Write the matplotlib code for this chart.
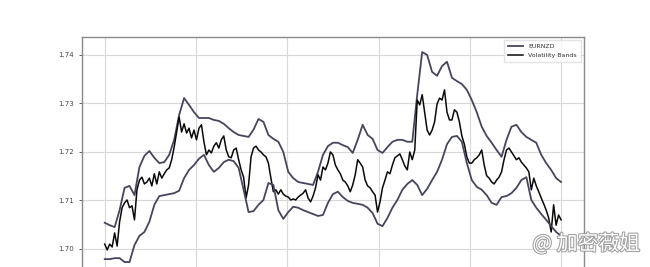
import numpy as np
import matplotlib.pyplot as plt
import matplotlib.patheffects as pe

# EURNZD close
eurnzd = [
    1.7010, 1.6998, 1.7010, 1.7004, 1.7033, 1.7006, 1.7056, 1.7085,
    1.7095, 1.7101, 1.7085, 1.7089, 1.7060, 1.7122, 1.7142, 1.7148,
    1.7134, 1.7138, 1.7146, 1.7130, 1.7155, 1.7134, 1.7159, 1.7146,
    1.7155, 1.7163, 1.7167, 1.7184, 1.7210, 1.7241, 1.7272, 1.7241,
    1.7258, 1.7239, 1.7249, 1.7229, 1.7245, 1.7225, 1.7249, 1.7256,
    1.7221, 1.7194, 1.7204, 1.7198, 1.7212, 1.7219, 1.7208, 1.7225,
    1.7233, 1.7204, 1.7190, 1.7188, 1.7204, 1.7208, 1.7184, 1.7163,
    1.7148, 1.7105, 1.7132, 1.7190, 1.7208, 1.7212, 1.7204, 1.7200,
    1.7194, 1.7190, 1.7177, 1.7146, 1.7118, 1.7122, 1.7113, 1.7122,
    1.7113, 1.7109, 1.7107, 1.7101, 1.7103, 1.7101, 1.7107, 1.7111,
    1.7115, 1.7122, 1.7105, 1.7097, 1.7109, 1.7126, 1.7153, 1.7142,
    1.7169, 1.7163, 1.7177, 1.7200, 1.7194, 1.7173, 1.7163, 1.7155,
    1.7142, 1.7138, 1.7130, 1.7118, 1.7132, 1.7153, 1.7184, 1.7177,
    1.7169, 1.7142, 1.7130, 1.7126, 1.7118, 1.7111, 1.7076, 1.7097,
    1.7126, 1.7142, 1.7159, 1.7155, 1.7173, 1.7188, 1.7192, 1.7196,
    1.7184, 1.7171, 1.7163, 1.7200, 1.7184, 1.7204, 1.7307, 1.7297,
    1.7318, 1.7282, 1.7245, 1.7235, 1.7245, 1.7262, 1.7299, 1.7311,
    1.7307, 1.7328, 1.7282, 1.7266, 1.7266, 1.7287, 1.7282, 1.7262,
    1.7233, 1.7216, 1.7190, 1.7177, 1.7177, 1.7184, 1.7188, 1.7194,
    1.7204, 1.7173, 1.7151, 1.7146, 1.7138, 1.7134, 1.7142, 1.7148,
    1.7159, 1.7184, 1.7204, 1.7208, 1.7200, 1.7192, 1.7184, 1.7188,
    1.7179, 1.7173, 1.7167, 1.7159, 1.7122, 1.7146, 1.7130, 1.7118,
    1.7105, 1.7093, 1.7080, 1.7064, 1.7035, 1.7091, 1.7049, 1.7070,
    1.7060,
]

upper_band = [
    1.7054, 1.7049, 1.7045, 1.7080, 1.7126, 1.7130, 1.7111, 1.7169,
    1.7192, 1.7202, 1.7188, 1.7177, 1.7179, 1.7194, 1.7225, 1.7276,
    1.7311, 1.7297, 1.7282, 1.7270, 1.7270, 1.7270, 1.7266, 1.7264,
    1.7258, 1.7249, 1.7241, 1.7235, 1.7233, 1.7231, 1.7246, 1.7268,
    1.7262, 1.7235, 1.7227, 1.7221, 1.7200, 1.7159, 1.7146, 1.7138,
    1.7136, 1.7134, 1.7132, 1.7159, 1.7194, 1.7212, 1.7219, 1.7219,
    1.7214, 1.7210, 1.7198, 1.7225, 1.7256, 1.7235, 1.7227, 1.7204,
    1.7198, 1.7210, 1.7221, 1.7225, 1.7225, 1.7221, 1.7221, 1.7318,
    1.7406, 1.7400, 1.7365, 1.7357, 1.7377, 1.7386, 1.7353, 1.7346,
    1.7340, 1.7328, 1.7307, 1.7282, 1.7252, 1.7233, 1.7219, 1.7204,
    1.7190, 1.7225, 1.7252, 1.7256, 1.7241, 1.7231, 1.7225, 1.7219,
    1.7194, 1.7177, 1.7163, 1.7146, 1.7138,
]

lower_band = [
    1.6979, 1.6979, 1.6981, 1.6981, 1.6973, 1.6973, 1.7008, 1.7027,
    1.7035, 1.7056, 1.7091, 1.7109, 1.7111, 1.7113, 1.7115, 1.7120,
    1.7146, 1.7163, 1.7173, 1.7186, 1.7194, 1.7173, 1.7159, 1.7167,
    1.7179, 1.7184, 1.7181, 1.7167, 1.7122, 1.7076, 1.7078, 1.7091,
    1.7101, 1.7136, 1.7132, 1.7080, 1.7062, 1.7076, 1.7087, 1.7085,
    1.7080, 1.7076, 1.7072, 1.7068, 1.7070, 1.7095, 1.7113, 1.7118,
    1.7107, 1.7099, 1.7095, 1.7093, 1.7091, 1.7085, 1.7074, 1.7052,
    1.7047, 1.7064, 1.7085, 1.7101, 1.7122, 1.7134, 1.7142, 1.7132,
    1.7111, 1.7124, 1.7142, 1.7159, 1.7184, 1.7216, 1.7231, 1.7233,
    1.7221, 1.7177, 1.7142, 1.7128, 1.7122, 1.7111, 1.7095, 1.7091,
    1.7107, 1.7109, 1.7115, 1.7126, 1.7142, 1.7148, 1.7101, 1.7085,
    1.7072, 1.7060, 1.7047, 1.7035, 1.7027,
]

y_ticks = [1.70, 1.71, 1.72, 1.73, 1.74]
n_days = 500

x_price = np.linspace(0, n_days, len(eurnzd))
x_band = np.linspace(0, n_days, len(upper_band))

fig = plt.figure(figsize=(6.5, 2.67), dpi=100)
ax = fig.add_axes([0.126, -0.0232, 0.7723, 0.8846])

band_color = "#45455e"
ax.plot(x_band, upper_band, color=band_color, lw=1.3)
ax.plot(x_price, eurnzd, color="#0a0a0a", lw=1.1)
ax.plot(x_band, lower_band, color=band_color, lw=1.3)

ax.set_ylim(1.695, 1.7437)
ax.set_yticks(y_ticks)
ax.set_yticklabels([f"{t:.2f}" for t in y_ticks])
ax.set_xticks(np.arange(0, n_days + 1, 100))
ax.tick_params(axis="y", labelsize=5, colors="#444444", length=2, width=0.6)
ax.tick_params(axis="x", labelbottom=False, length=0)
ax.grid(True, color="#d8d8d8", lw=0.8)
for s in ax.spines.values():
    s.set_color("#8a8a8a")
    s.set_linewidth(1.0)

ax.legend(["EURNZD", "Volatility Bands"], loc="upper right", fontsize=4.5,
          frameon=True, edgecolor="#dddddd", handlelength=2.5, borderpad=0.6,
          fancybox=False, labelcolor="#333333")

wm = fig.text(0.985, 0.045, "@ 加密薇姐", ha="right", va="bottom", fontsize=15,
              color="white", family=["Noto Sans CJK SC", "DejaVu Sans"])
wm.set_path_effects([pe.withStroke(linewidth=1.5, foreground="#a0a0a0")])

fig.savefig("out.png", dpi=100)
